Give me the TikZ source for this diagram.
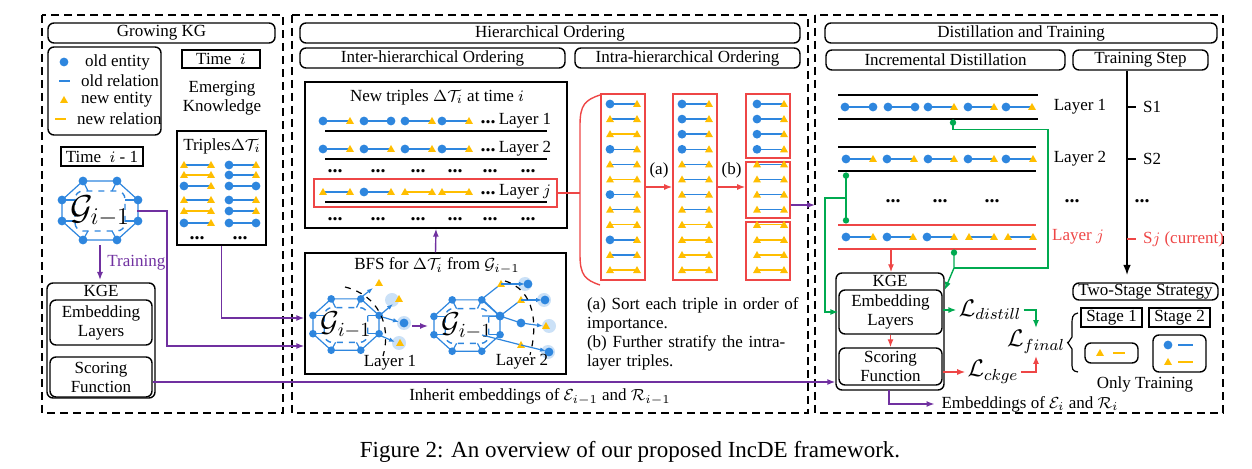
\documentclass[tikz,border=0pt]{standalone}
\usepackage{fontspec}
\setmainfont{Liberation Serif}
\usetikzlibrary{arrows.meta,calc}
\definecolor{kblue}{RGB}{46,134,222}
\definecolor{kyel}{RGB}{255,190,0}
\definecolor{kpur}{RGB}{112,48,160}
\definecolor{kred}{RGB}{238,70,70}
\definecolor{kgreen}{RGB}{0,170,80}
\tikzset{
  panel/.style={draw, dashed, line width=0.8pt, dash pattern=on 4pt off 2.5pt},
  bx/.style={draw, line width=0.7pt},
  rbx/.style={draw, line width=0.7pt, rounded corners=3pt},
  oe/.pic={\fill[kblue] (0,0) circle (2.2pt);},
  ne/.pic={\fill[kyel] (-4,3) -- (4,3) -- (0,-4) -- cycle;},
  pa/.style={kpur, line width=0.7pt, -{Latex[length=4pt]}},
  ra/.style={kred, line width=0.7pt, -{Latex[length=4pt]}},
  ga/.style={kgreen, line width=0.7pt, -{Latex[length=4pt]}},
  gd/.style={kgreen, dashed, line width=0.6pt},
  dots/.style={font=\bfseries, inner sep=0pt}
}
% box from (x1,y1) to (x2,y2) in pixels, named, with centred text
\newcommand\mybox[7][bx]{\node[#1, align=center, inner sep=0pt,
  minimum width={(#4-#2)*0.5pt}, minimum height={(#5-#3)*0.5pt}]
  (#6) at ({(#2+#4)/2},{(#3+#5)/2}) {#7};}
% triple: x, y, head pic, relation colour, tail pic, length
\newcommand\trp[6]{\draw[#4, line width=0.7pt] (#1,#2) -- ({#1+#6},#2);
  \pic at (#1,#2) {#3}; \pic at ({#1+#6},#2) {#5};}
% octagon graph around (cx,cy), scale s
\newcommand\kg[3]{\begin{scope}[shift={(#1,#2)}, scale=#3]
  \draw[kblue, dashed, line width=0.7pt, rounded corners=4pt] (-25,-20) rectangle (25,20);
  \draw[kblue, line width=0.6pt] (-17,-30) -- (17,-30) -- (38,-11) -- (38,10) -- (17,29)
     -- (-17,29) -- (-38,10) -- (-38,-11) -- cycle;
  \foreach \a/\b/\c/\d in {-17/-30/-12/-20, 17/-30/12/-20, 38/-11/25/-11, 38/10/25/10,
     17/29/12/20, -17/29/-12/20, -38/10/-25/10, -38/-11/-25/-11}
     \draw[kblue, line width=0.6pt] (\a,\b) -- (\c,\d);
  \foreach \a/\b in {-17/-30, 17/-30, 38/-11, 38/10, 17/29, -17/29, -38/10, -38/-11}
     \fill[kblue] (\a,\b) circle (2.2pt);
  \end{scope}}
\begin{document}
\begin{tikzpicture}[x=0.5pt, y=-0.5pt, font=\fontsize{8.5}{9.5}\selectfont]
\useasboundingbox (0,0) rectangle (1252,469);
% ---------- panels ----------
\draw[panel] (42,15) rectangle (283,413);
\draw[panel] (292,15) rectangle (808,413);
\draw[panel] (815,15) rectangle (1223,413);
% ---------- Growing KG ----------
\mybox[rbx]{48}{23}{275}{43}{gkg}{Growing KG}
\mybox[rbx]{48}{47}{161}{135}{legend}{}
\pic at (64,62) {oe}; \node[anchor=west] (l1) at (78,62) {old entity};
\draw[kblue, line width=0.7pt] (59,81) -- (70,81); \node[anchor=west] (l2) at (74,81) {old relation};
\pic at (64,100) {ne}; \node[anchor=west] (l3) at (74,100) {new entity};
\draw[kyel, line width=0.7pt] (55,119) -- (66,119); \node[anchor=west] (l4) at (70,119) {new relation};
\mybox{182}{50}{260}{68}{ti}{Time~~$i$}
\node[align=center] (emk) at (222,98) {Emerging\\Knowledge};
\mybox{177}{131}{266}{245}{trb}{}
\node (trt) at (222,146) {Triples$\Delta\mathcal{T}_i$};
\foreach \y/\h/\r/\t [count=\k] in {165/ne/kblue/ne, 175/ne/kyel/ne, 186/oe/kblue/ne,
   200/ne/kblue/ne, 211/ne/kyel/ne, 223/oe/kblue/ne}
  {\trp{184}{\y}{\h}{\r}{\t}{27}}
\foreach \y/\t in {165/ne, 175/ne, 186/oe, 200/ne, 211/ne, 223/oe}
  {\trp{229}{\y}{oe}{kblue}{\t}{27}}
\node[dots] (d1) at (197,238) {...}; \node[dots] (d2) at (240,238) {...};
\mybox{61}{147}{143}{166}{tim}{Time~~$i$ - 1}
\kg{100}{211}{1}
\node (gim) at (100,211) {\LARGE$\mathcal{G}_{i-1}$};
\coordinate (gr) at (137,211);
\mybox[rbx]{47}{283}{155}{398}{kge1}{}
\node (kget1) at (101,291) {KGE};
\mybox[rbx]{50}{300}{152}{345}{emb1}{Embedding\\Layers}
\mybox[rbx]{50}{357}{152}{397}{sc1}{Scoring\\Function}
\draw[pa] (100,245) -- (100,280) node[midway, right] {Training};
% ---------- Hierarchical Ordering ----------
\mybox[rbx]{300}{23}{800}{43}{ho}{Hierarchical Ordering}
\mybox[rbx]{300}{48}{565}{68}{inter}{Inter-hierarchical Ordering}
\mybox[rbx]{575}{48}{800}{68}{intra}{Intra-hierarchical Ordering}
\mybox{305}{82}{567}{228}{newt}{}
\node (newtt) at (437,97) {New triples $\Delta\mathcal{T}_i$ at time $i$};
\foreach \x/\t in {323/ne, 364/oe, 405/ne, 442/ne} {\trp{\x}{121}{oe}{kblue}{\t}{27}}
\foreach \x in {323, 364, 405, 442} {\trp{\x}{149}{oe}{kblue}{ne}{27}}
\node[dots] (dl1) at (488,122) {...}; \node (ly1) at (525,121) {Layer 1};
\node[dots] (dl2) at (488,150) {...}; \node (ly2) at (525,149) {Layer 2};
\draw[line width=0.6pt] (325,131) -- (547,131);
\draw[line width=0.6pt] (325,159) -- (547,159);
\foreach \x in {335,378,418,455,490,528} {\node[dots] at (\x,171) {...}; \node[dots] at (\x,219) {...};}
\node[draw=kred, line width=0.8pt, minimum width=121.5pt, minimum height=14pt, inner sep=0pt] (lyj) at (435.5,193) {};
\trp{323}{192}{ne}{kblue}{ne}{27}
\trp{364}{192}{oe}{kblue}{ne}{27}
\trp{405}{192}{ne}{kyel}{ne}{27}
\trp{442}{192}{ne}{kyel}{ne}{27}
\node[dots] (dlj) at (488,193) {...}; \node (lyjt) at (525,192) {Layer $j$};
\draw[line width=0.6pt] (325,202) -- (547,202);
% BFS
\mybox{305}{253}{566}{374}{bfs}{}
\node (bfst) at (437,266) {BFS for $\Delta\mathcal{T}_i$ from $\mathcal{G}_{i-1}$};
\draw[pa] (bfs.north) -- (newt.south);
\foreach \cx/\cy/\r in {392/300/7, 404/323/7, 399/343/7, 525/284/7, 544/300/7, 548/352/7, 549/326/7}
  \fill[kblue!25] (\cx,\cy) circle (\r*0.5pt);
\kg{346}{325}{0.87}
\node (g1) at (346,325) {\Large$\mathcal{G}_{i-1}$};
\draw[kblue, line width=0.6pt, -{Latex[length=3pt]}] (359,299) -- (373,288);
\pic at (379,283) {ne};
\draw[kblue, line width=0.6pt, -{Latex[length=3pt]}] (379,316) -- (393,304);
\pic at (399,299) {ne};
\draw[kblue, line width=0.6pt, -{Latex[length=3pt]}] (379,316) -- (399,322);
\pic at (404,323) {oe};
\draw[kblue, line width=0.6pt, -{Latex[length=3pt]}] (379,335) -- (395,342);
\pic at (400,343) {ne};
\draw[dashed, line width=0.6pt] (345,287) .. controls (378,295) and (392,325) .. (383,356);
\node (bl1) at (390,363) {Layer 1};
\draw[pa] (412,326) -- (428,326);
\kg{467}{326}{0.87}
\node (g2) at (467,326) {\Large$\mathcal{G}_{i-1}$};
\draw[kblue, line width=0.6pt] (482,299) -- (501,284) (500,316) -- (521,300)
   (482,316) -- (500,316) -- (521,323) (482,335) -- (521,345) (500,316) -- (482,299);
\pic at (501,284) {ne}; \fill[kblue] (500,316) circle (2.2pt);
\draw[kblue, line width=0.6pt, -{Latex[length=3pt]}] (501,284) -- (525,284);
\pic at (528,284) {oe};
\pic at (521,300) {ne};
\draw[kblue, line width=0.6pt, -{Latex[length=3pt]}] (521,300) -- (542,300);
\pic at (545,300) {oe};
\pic at (521,323) {oe};
\draw[kblue, line width=0.6pt, -{Latex[length=3pt]}] (521,323) -- (543,326);
\pic at (546,326) {ne};
\pic at (521,345) {ne};
\draw[kblue, line width=0.6pt, -{Latex[length=3pt]}] (521,345) -- (546,351);
\pic at (549,352) {oe};
\draw[dashed, line width=0.6pt] (505,281) .. controls (535,290) and (538,325) .. (530,355);
\node (bl2) at (522,362) {Layer 2};
% intra ordering
\draw[kred, line width=0.7pt] (600,95) .. controls (585,100) and (580,105) .. (580,125)
   -- (580,255) .. controls (580,275) and (585,280) .. (600,285);
\coordinate (brc) at (580,193);
\draw[kred, line width=0.8pt] (lyj.east) -- (brc);
\mybox[draw=kred, line width=0.8pt]{601}{94}{645}{280}{c1}{}
\mybox[draw=kred, line width=0.8pt]{673}{94}{717}{280}{c2}{}
\mybox[draw=kred, line width=0.8pt]{746}{94}{790}{158}{c3a}{}
\mybox[draw=kred, line width=0.8pt]{746}{162}{790}{218}{c3b}{}
\mybox[draw=kred, line width=0.8pt]{746}{222}{790}{280}{c3c}{}
\foreach \h/\r [count=\k from 0] in {oe/kblue, ne/kblue, ne/kyel, oe/kblue, ne/kblue, ne/kyel,
   oe/kblue, ne/kblue, ne/kyel, oe/kblue, ne/kblue, ne/kyel}
  {\trp{610}{104+15.1*\k}{\h}{\r}{ne}{27}}
\foreach \h/\r [count=\k from 0] in {oe/kblue, oe/kblue, oe/kblue, oe/kblue, ne/kblue, ne/kblue,
   ne/kblue, ne/kblue, ne/kyel, ne/kyel, ne/kyel, ne/kyel}
  {\trp{682}{104+15.1*\k}{\h}{\r}{ne}{27}
   \trp{757}{104+15.1*\k}{\h}{\r}{ne}{27}}
\draw[ra] (c1.east |- 0,187) -- (c2.west |- 0,187) node[midway, above=1pt, black] {(a)};
\draw[ra] (c2.east |- 0,187) -- (c3b.west |- 0,187) node[midway, above=1pt, black] {(b)};
\node[align=left, anchor=north west, text width=115pt] (note) at (580,290)
  {(a) Sort each triple in order of importance.\\(b) Further stratify the intra-layer triples.};
\node (inh) at (540,397) {Inherit embeddings of $\mathcal{E}_{i-1}$ and $\mathcal{R}_{i-1}$};
% ---------- Distillation and Training ----------
\mybox[rbx]{825}{23}{1217}{43}{dt}{Distillation and Training}
\mybox[rbx]{826}{50}{1065}{70}{incd}{Incremental Distillation}
\mybox[rbx]{1073}{50}{1208}{70}{ts}{Training Step}
\draw[line width=0.6pt] (838,95) -- (1038,95) (838,119) -- (1038,119)
   (838,147) -- (1036,147) (838,171) -- (1036,171);
\draw[kred, line width=0.7pt] (838,225) -- (1036,225) (838,249) -- (1036,249);
\foreach \a/\ha/\b/\hb in {845/oe/873/oe, 888/oe/915/oe, 928/oe/954/ne, 968/oe/994/ne, 1006/oe/1032/ne}
  {\trp{\a}{107}{\ha}{kblue}{\hb}{\b-\a}}
\foreach \a/\ha/\b/\hb in {846/oe/873/ne, 887/oe/914/ne, 928/oe/954/ne, 968/oe/994/ne, 1006/oe/1033/ne}
  {\trp{\a}{159}{\ha}{kblue}{\hb}{\b-\a}}
\foreach \a/\ha/\b/\hb in {846/oe/873/ne, 887/oe/913/ne, 927/oe/954/ne, 969/ne/994/ne, 1008/ne/1033/ne}
  {\trp{\a}{237}{\ha}{kblue}{\hb}{\b-\a}}
\foreach \x in {893,940,992,1072} {\node[dots] at (\x,201) {...};}
\node (r1) at (1080,107) {Layer 1};
\node (r2) at (1080,159) {Layer 2};
\node[kred] (rj) at (1078,237) {Layer $j$};
\mybox[gd]{943}{90}{963}{122}{g1b}{}
\mybox[gd]{836}{143}{856}{175}{g2b}{}
\mybox[gd]{836}{221}{856}{252}{g3b}{}
\mybox[gd]{944}{221}{964}{252}{g4b}{}
% KGE
\mybox[rbx]{836}{273}{944}{390}{kge2}{}
\node (kget2) at (890,281) {KGE};
\mybox[rbx]{839}{290}{942}{334}{emb2}{Embedding\\Layers}
\mybox[rbx]{839}{348}{942}{385}{sc2}{Scoring\\Function}
\draw[ra] (891,249) -- (kge2.north -| 891,0);
\draw[ra] (emb2.south) -- (sc2.north);
% green distillation links
\fill[kgreen] (g1b.south) circle (1.6pt) (g2b.south) circle (1.6pt)
   (g3b.north) circle (1.6pt) (g4b.south) circle (1.6pt);
\draw[kgreen, line width=0.7pt] (g1b.south) -- ++(0,7) -| (1048,268) -- (954,268);
\draw[ga] (g4b.south) -- (954,268) -- (kge2.north east |- 0,290);
\draw[kgreen, line width=0.7pt] (g2b.south) -- (g3b.north);
\draw[ga] (846,198) -- (825,198) -- (825,312) -- (emb2.west |- 0,312);
% losses
\node[inner sep=1pt] (ld) at (990,310) {\large$\mathcal{L}_{distill}$};
\node[inner sep=1pt] (lc) at (993,372) {\large$\mathcal{L}_{ckge}$};
\node[inner sep=1pt] (lf) at (1036,342) {\large$\mathcal{L}_{final}$};
\draw[ga] (emb2.east |- ld) -- (ld.west);
\draw[ra] (sc2.east |- lc) -- (lc.west);
\draw[ga] (ld.east) -| (lf.north);
\draw[ra] (lc.east) -| (lf.south);
% training step
\coordinate (tstop) at (1127,70);
\coordinate (tsend) at (1127,275);
\draw[line width=0.7pt, -{Latex[length=5pt]}] (ts.south -| tstop) -- (tsend);
\draw[line width=0.6pt] (1127,107) -- (1136,107) (1127,159) -- (1136,159);
\draw[kred, line width=0.6pt] (1127,239) -- (1136,239);
\node[anchor=west] (s1) at (1136,107) {S1};
\node[anchor=west] (s2) at (1136,159) {S2};
\node[dots] (sd) at (1142,201) {...};
\node[anchor=west, kred] (sj) at (1136,239) {S$j$ (current)};
% two-stage strategy
\mybox[rbx]{1073}{283}{1218}{300}{tss}{Two-Stage Strategy}
\mybox[bx]{1081}{308}{1142}{327}{st1}{Stage 1}
\mybox[bx]{1149}{308}{1210}{327}{st2}{Stage 2}
\mybox[rbx]{1085}{343}{1138}{363}{sb1}{}
\mybox[rbx]{1153}{335}{1206}{372}{sb2}{}
\pic at (1100,353) {ne}; \draw[kyel, line width=0.7pt] (1113,353) -- (1125,353);
\pic at (1168,345) {oe}; \draw[kblue, line width=0.7pt] (1178,345) -- (1193,345);
\pic at (1168,362) {ne}; \draw[kyel, line width=0.7pt] (1178,362) -- (1193,362);
\draw[line width=0.6pt] (1078,313) .. controls (1072,314) and (1072,318) .. (1072,325)
   -- (1072,337) -- (1068,343) -- (1072,349) -- (1072,362)
   .. controls (1072,369) and (1072,371) .. (1078,372);
\draw[line width=0.6pt] (lf.east) -- (1068,343);
\node (ot) at (1145,384) {Only Training};
\node (eir) at (1030,404) {Embeddings of $\mathcal{E}_i$ and $\mathcal{R}_i$};
\draw[pa] (889,390) |- (eir.west);
% ---------- purple links ----------
\draw[pa] (gr) -- (167,211) |- (bfs.west |- 0,346);
\draw[pa] (trb.south) |- (bfs.west |- 0,318);
\draw[pa] (sc1.east |- 0,382) -- (kge2.west |- 0,382);
\draw[pa] (c3b.east |- 0,205) -- (815,205);
% caption
\node[font=\fontsize{11.5}{13}\selectfont] (cap) at (630,452) {Figure 2: An overview of our proposed IncDE framework.};
\end{tikzpicture}
\end{document}
